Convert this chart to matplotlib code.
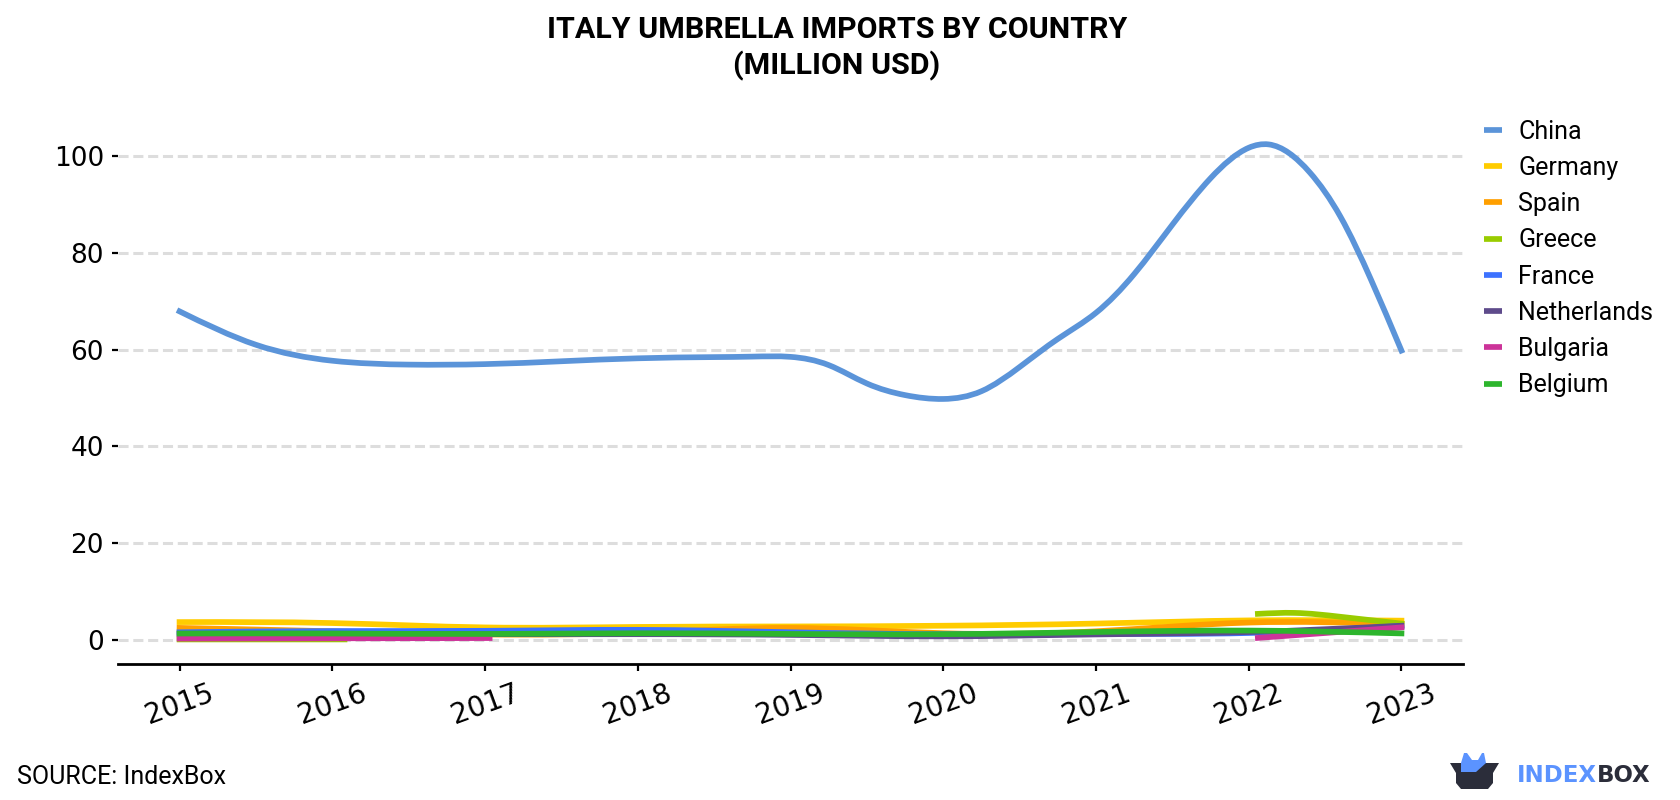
import numpy as np
import matplotlib
matplotlib.use('Agg')
import matplotlib.pyplot as plt
from matplotlib.path import Path
from matplotlib.patches import PathPatch, Polygon

plt.rcParams['font.family'] = ['Roboto', 'DejaVu Sans']

years = [2015, 2016, 2017, 2018, 2019, 2020, 2021, 2022, 2023]
tick_labels = ['2015', '2016', '2017', '2018', '2019', '2020', '2021', '2022', '2023']

china_x = [2015, 2015.5, 2016, 2016.5, 2017, 2018, 2018.5, 2018.75, 2019, 2019.25, 2019.5, 2019.75, 2020,
           2020.25, 2020.5, 2020.75, 2021, 2021.25, 2021.5, 2021.75, 2022, 2022.13, 2022.4,
           2022.6, 2022.8, 2023]
china = [67.9, 61.0, 57.7, 56.9, 57.0, 58.2, 58.45, 58.55, 58.5, 56.8, 53.0, 50.6, 49.8,
         51.4, 56.4, 62.2, 67.6, 75.6, 85.8, 95.4, 101.7, 102.4, 96.6,
         87.5, 74.5, 59.8]
germany = [3.7, 3.5, 2.6, 2.7, 2.8, 2.95, 3.4, 4.05, 4.0]
spain = [2.5, 1.8, 1.15, 1.5, 2.5, 1.4, 1.8, 3.6, 3.3]
greece_a_x = [2015, 2016.08]
greece_a = [0.12, 0.12]
greece_b_x = [2022.06, 2022.3, 2022.6, 2023]
greece_b = [5.4, 5.6, 4.8, 3.4]
france = [1.6, 1.85, 1.9, 2.1, 1.6, 1.2, 1.25, 1.45, 2.9]
netherlands = [1.3, 1.3, 1.2, 1.2, 1.05, 0.76, 1.15, 1.65, 2.95]
bulgaria_a_x = [2015, 2016, 2017.03]
bulgaria_a = [0.3, 0.35, 0.4]
bulgaria_b_x = [2022.06, 2023]
bulgaria_b = [0.43, 2.6]
belgium = [1.34, 1.34, 1.25, 1.4, 1.25, 1.2, 1.65, 1.95, 1.36]

legend_names = ['China', 'Germany', 'Spain', 'Greece', 'France',
                'Netherlands', 'Bulgaria', 'Belgium']
colors = ['#5b94d9', '#ffcc00', '#ff9f00', '#99cc00', '#3d72ff',
          '#5e4b8b', '#cc3399', '#2db52d']


def spline_path(xs, ys):
    # natural cubic spline written out as bezier segments
    xs = np.asarray(xs, float)
    ys = np.asarray(ys, float)
    n = len(xs)
    h = np.diff(xs)
    if n < 3:
        slopes = np.full(n, (ys[1] - ys[0]) / h[0])
    else:
        A = np.zeros((n, n))
        b = np.zeros(n)
        A[0, 0] = A[-1, -1] = 1
        for i in range(1, n - 1):
            A[i, i - 1] = h[i - 1]
            A[i, i] = 2 * (h[i - 1] + h[i])
            A[i, i + 1] = h[i]
            b[i] = 6 * ((ys[i + 1] - ys[i]) / h[i] - (ys[i] - ys[i - 1]) / h[i - 1])
        m = np.linalg.solve(A, b)
        slopes = np.zeros(n)
        for i in range(n - 1):
            slopes[i] = (ys[i + 1] - ys[i]) / h[i] - h[i] * (2 * m[i] + m[i + 1]) / 6
        slopes[-1] = (ys[-1] - ys[-2]) / h[-1] + h[-1] * (m[-2] + 2 * m[-1]) / 6
    verts = [(xs[0], ys[0])]
    codes = [Path.MOVETO]
    for i in range(n - 1):
        verts.append((xs[i] + h[i] / 3, ys[i] + slopes[i] * h[i] / 3))
        verts.append((xs[i + 1] - h[i] / 3, ys[i + 1] - slopes[i + 1] * h[i] / 3))
        verts.append((xs[i + 1], ys[i + 1]))
        codes += [Path.CURVE4] * 3
    return Path(verts, codes)


fig = plt.figure(figsize=(16.8, 8.0), dpi=100)
ax = fig.add_axes([118 / 1680, 1 - 664 / 800, (1463 - 118) / 1680, (664 - 100) / 800])

series = [
    (china_x, china, 0), (years, germany, 1), (years, spain, 2),
    (greece_a_x, greece_a, 3), (greece_b_x, greece_b, 3),
    (years, france, 4), (years, netherlands, 5),
    (bulgaria_a_x, bulgaria_a, 6), (bulgaria_b_x, bulgaria_b, 6),
    (years, belgium, 7),
]
for xs, ys, c in series:
    ax.add_patch(PathPatch(spline_path(xs, ys), fill=False, edgecolor=colors[c],
                           lw=4.1, capstyle='projecting', joinstyle='round', zorder=3 + c * 0.1))

handles = [plt.Line2D([], [], color=c, lw=4.1, solid_capstyle='butt') for c in colors]
fig.legend(handles, legend_names, loc='upper left', bbox_to_anchor=(1484 / 1680, 1 - 119.6 / 800),
           frameon=False, fontsize=18, handlelength=0.72, handletextpad=0.64,
           labelspacing=0.49, borderpad=0, borderaxespad=0)

ax.set_xlim(2014.597, 2023.403)
ax.set_ylim(-(664 - 640) / 4.84, (640 - 100) / 4.84)
ax.set_yticks([0, 20, 40, 60, 80, 100])
ax.set_xticks(years)
ax.set_xticklabels(tick_labels, rotation=20, family='DejaVu Sans', fontsize=20)
for lab in ax.get_yticklabels():
    lab.set_family('DejaVu Sans')
    lab.set_fontsize(19)
ax.grid(axis='y', color='#dddddd', lw=2.2, dashes=(3.3, 1.55))
ax.set_axisbelow(True)
ax.tick_params(axis='y', length=4.3, width=1.6, pad=5.8)
ax.tick_params(axis='x', length=5, width=1.6, pad=6)
for side in ['top', 'right', 'left']:
    ax.spines[side].set_visible(False)
ax.spines['bottom'].set_linewidth(2)

fig.text(0.498, 1 - 48.5 / 800, 'ITALY UMBRELLA IMPORTS BY COUNTRY\n(MILLION USD)', ha='center', va='center',
         fontsize=21.9, fontweight='bold', linespacing=1.29)
fig.text(17 / 1680, 1 - 777 / 800, 'SOURCE: IndexBox', ha='left', va='center', fontsize=18)

# logo
logo = fig.add_axes([0, 0, 1, 1], facecolor='none')
logo.set_axis_off()
logo.set_xlim(0, 1680)
logo.set_ylim(800, 0)
logo.add_patch(Polygon([(1450, 763), (1499, 763), (1493, 773), (1493, 783), (1488, 789),
                        (1461, 789), (1456, 783), (1456, 773)],
                       closed=True, fc='#2b2d3a', ec='none'))
logo.add_patch(Polygon([(1461, 772), (1461, 763), (1464, 753), (1467, 753), (1472, 760), (1478, 760),
                        (1482, 753), (1484, 753), (1486, 763), (1476, 772)],
                       closed=True, fc='#5b93ff', ec='none'))
fig.text(1517 / 1680, 1 - 775 / 800, 'INDEX', color='#5b93ff', fontsize=16.5, fontweight='bold',
         family='DejaVu Sans', va='center', ha='left')
fig.text(1597 / 1680, 1 - 775 / 800, 'BOX', color='#2b2d3a', fontsize=16.5, fontweight='bold',
         family='DejaVu Sans', va='center', ha='left')

fig.savefig('out.png', dpi=100)
